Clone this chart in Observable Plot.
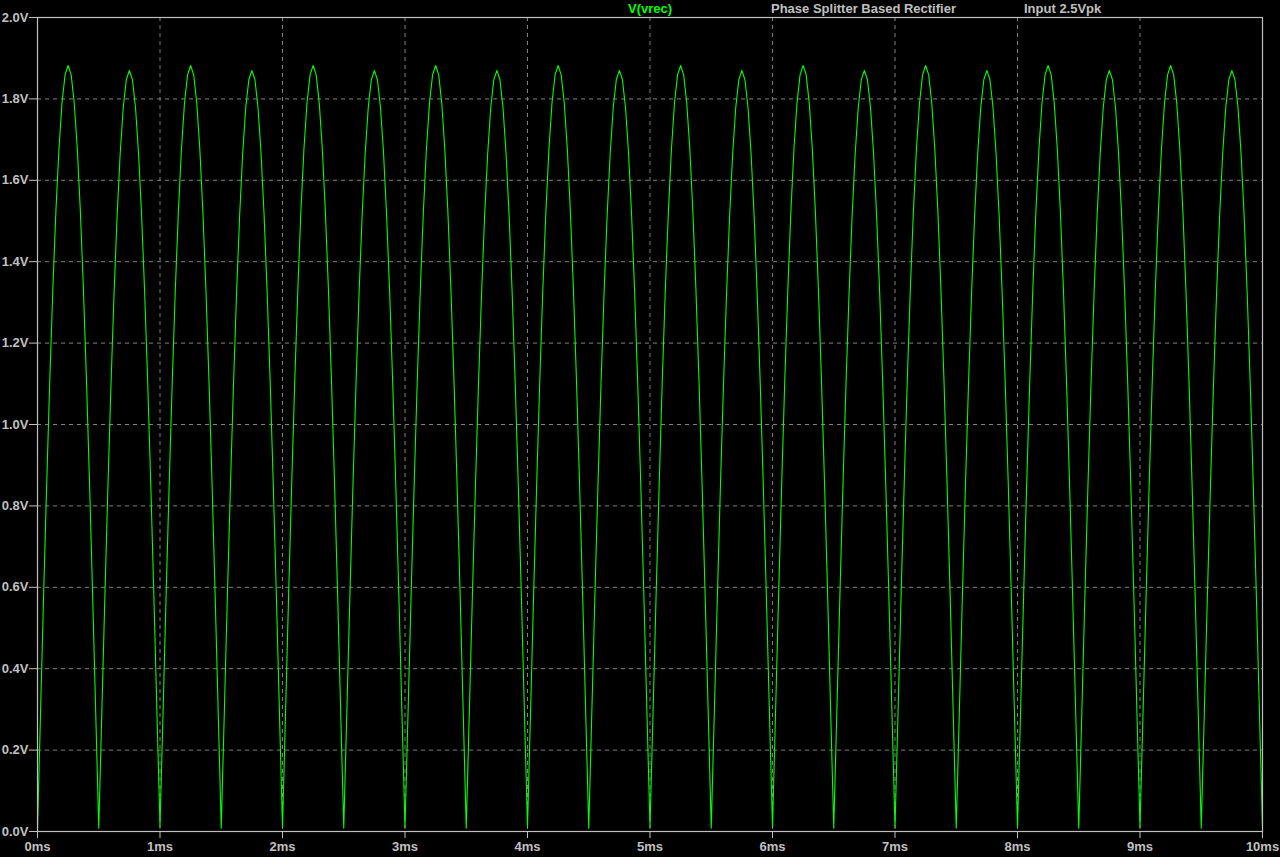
<!DOCTYPE html>
<html>
<head>
<meta charset="utf-8">
<script src="https://cdn.jsdelivr.net/npm/d3@7"></script>
<script src="https://cdn.jsdelivr.net/npm/@observablehq/plot@0.6"></script>
<style>
  html, body { margin: 0; padding: 0; background: #000; }
  #chart { width: 1280px; height: 857px; }
</style>
</head>
<body>
<div id="chart"></div>
<script>
// ---- chart data ----
const traceName = "V(vrec)";
const titleText = "Phase Splitter Based Rectifier";
const noteText = "Input 2.5Vpk";
const stepMs = 0.025; // sample spacing of the trace, ms
const vrec = [
  // 0.0 – 0.5 ms
  0.005,0.294,0.582,0.854,1.106,1.331,1.523,1.677,1.790,1.859,1.882,1.859,1.790,1.677,1.523,1.331,1.106,0.854,0.582,0.294,
  // 0.5 – 1.0 ms
  0.008,0.292,0.578,0.849,1.099,1.322,1.513,1.666,1.779,1.847,1.870,1.847,1.779,1.666,1.513,1.322,1.099,0.849,0.578,0.292,
  // 1.0 – 1.5 ms
  0.012,0.294,0.582,0.854,1.106,1.331,1.523,1.677,1.790,1.859,1.882,1.859,1.790,1.677,1.523,1.331,1.106,0.854,0.582,0.294,
  // 1.5 – 2.0 ms
  0.008,0.292,0.578,0.849,1.099,1.322,1.513,1.666,1.779,1.847,1.870,1.847,1.779,1.666,1.513,1.322,1.099,0.849,0.578,0.292,
  // 2.0 – 2.5 ms
  0.010,0.294,0.582,0.854,1.106,1.331,1.523,1.677,1.790,1.859,1.882,1.859,1.790,1.677,1.523,1.331,1.106,0.854,0.582,0.294,
  // 2.5 – 3.0 ms
  0.008,0.292,0.578,0.849,1.099,1.322,1.513,1.666,1.779,1.847,1.870,1.847,1.779,1.666,1.513,1.322,1.099,0.849,0.578,0.292,
  // 3.0 – 3.5 ms
  0.010,0.294,0.582,0.854,1.106,1.331,1.523,1.677,1.790,1.859,1.882,1.859,1.790,1.677,1.523,1.331,1.106,0.854,0.582,0.294,
  // 3.5 – 4.0 ms
  0.008,0.292,0.578,0.849,1.099,1.322,1.513,1.666,1.779,1.847,1.870,1.847,1.779,1.666,1.513,1.322,1.099,0.849,0.578,0.292,
  // 4.0 – 4.5 ms
  0.010,0.294,0.582,0.854,1.106,1.331,1.523,1.677,1.790,1.859,1.882,1.859,1.790,1.677,1.523,1.331,1.106,0.854,0.582,0.294,
  // 4.5 – 5.0 ms
  0.008,0.292,0.578,0.849,1.099,1.322,1.513,1.666,1.779,1.847,1.870,1.847,1.779,1.666,1.513,1.322,1.099,0.849,0.578,0.292,
  // 5.0 – 5.5 ms
  0.010,0.294,0.582,0.854,1.106,1.331,1.523,1.677,1.790,1.859,1.882,1.859,1.790,1.677,1.523,1.331,1.106,0.854,0.582,0.294,
  // 5.5 – 6.0 ms
  0.008,0.292,0.578,0.849,1.099,1.322,1.513,1.666,1.779,1.847,1.870,1.847,1.779,1.666,1.513,1.322,1.099,0.849,0.578,0.292,
  // 6.0 – 6.5 ms
  0.010,0.294,0.582,0.854,1.106,1.331,1.523,1.677,1.790,1.859,1.882,1.859,1.790,1.677,1.523,1.331,1.106,0.854,0.582,0.294,
  // 6.5 – 7.0 ms
  0.008,0.292,0.578,0.849,1.099,1.322,1.513,1.666,1.779,1.847,1.870,1.847,1.779,1.666,1.513,1.322,1.099,0.849,0.578,0.292,
  // 7.0 – 7.5 ms
  0.010,0.294,0.582,0.854,1.106,1.331,1.523,1.677,1.790,1.859,1.882,1.859,1.790,1.677,1.523,1.331,1.106,0.854,0.582,0.294,
  // 7.5 – 8.0 ms
  0.008,0.292,0.578,0.849,1.099,1.322,1.513,1.666,1.779,1.847,1.870,1.847,1.779,1.666,1.513,1.322,1.099,0.849,0.578,0.292,
  // 8.0 – 8.5 ms
  0.010,0.294,0.582,0.854,1.106,1.331,1.523,1.677,1.790,1.859,1.882,1.859,1.790,1.677,1.523,1.331,1.106,0.854,0.582,0.294,
  // 8.5 – 9.0 ms
  0.008,0.292,0.578,0.849,1.099,1.322,1.513,1.666,1.779,1.847,1.870,1.847,1.779,1.666,1.513,1.322,1.099,0.849,0.578,0.292,
  // 9.0 – 9.5 ms
  0.010,0.294,0.582,0.854,1.106,1.331,1.523,1.677,1.790,1.859,1.882,1.859,1.790,1.677,1.523,1.331,1.106,0.854,0.582,0.294,
  // 9.5 – 10.0 ms
  0.008,0.292,0.578,0.849,1.099,1.322,1.513,1.666,1.779,1.847,1.870,1.847,1.779,1.666,1.513,1.322,1.099,0.849,0.578,0.292,
  // 10.0 ms
  0.010
];
const xTicks = [0, 1, 2, 3, 4, 5, 6, 7, 8, 9, 10];
const xGridTicks = [1, 2, 3, 4, 5, 6, 7, 8, 9];
const yTicks = [0, 0.2, 0.4, 0.6, 0.8, 1.0, 1.2, 1.4, 1.6, 1.8, 2.0];
const yGridTicks = [0.2, 0.4, 0.6, 0.8, 1.0, 1.2, 1.4, 1.6, 1.8];

// ---- build table ----
const trace = vrec.map((v, i) => ({ t: i * stepMs, v }));

const axisColor = "#c0c0c0";
const gridColor = "#808080";
const traceColor = "#00ff00";

const chart = Plot.plot({
  width: 1280,
  height: 857,
  marginLeft: 37,
  marginRight: 18,
  marginTop: 17,
  marginBottom: 26,
  style: {
    background: "#000",
    color: axisColor,
    fontFamily: "'Liberation Sans', Arial, sans-serif",
    fontSize: "13px",
    fontWeight: "bold",
    overflow: "visible"
  },
  x: { domain: [0, 10] },
  y: { domain: [0, 2] },
  marks: [
    Plot.gridX(xGridTicks, { stroke: gridColor, strokeOpacity: 1, strokeDasharray: "4,4" }),
    Plot.gridY(yGridTicks, { stroke: gridColor, strokeOpacity: 1, strokeDasharray: "4,4" }),
    Plot.line(trace, { x: "t", y: "v", stroke: traceColor, strokeWidth: 1.1, clip: true }),
    Plot.frame({ stroke: axisColor, strokeWidth: 1.2 }),
    Plot.axisX(xTicks, {
      tickFormat: d => d + "ms",
      tickSize: 7,
      tickPadding: 3,
      label: null,
      stroke: axisColor,
      fill: axisColor,
      fontSize: 13,
      fontWeight: "bold"
    }),
    Plot.axisY(yTicks, {
      tickFormat: d => d.toFixed(1) + "V",
      tickSize: 8,
      tickPadding: 1,
      label: null,
      stroke: axisColor,
      fill: axisColor,
      fontSize: 13,
      fontWeight: "bold"
    }),
    Plot.text([traceName], {
      frameAnchor: "top", lineAnchor: "middle", dy: -9, fill: traceColor,
      fontSize: 13, fontWeight: "bold", textAnchor: "middle"
    }),
    Plot.text([titleText], {
      frameAnchor: "top", lineAnchor: "middle", dy: -9, dx: 121, fill: axisColor,
      fontSize: 13, fontWeight: "bold", textAnchor: "start"
    }),
    Plot.text([noteText], {
      frameAnchor: "top", lineAnchor: "middle", dy: -9, dx: 374, fill: axisColor,
      fontSize: 13, fontWeight: "bold", textAnchor: "start"
    })
  ]
});

document.getElementById("chart").appendChild(chart);
</script>
</body>
</html>
